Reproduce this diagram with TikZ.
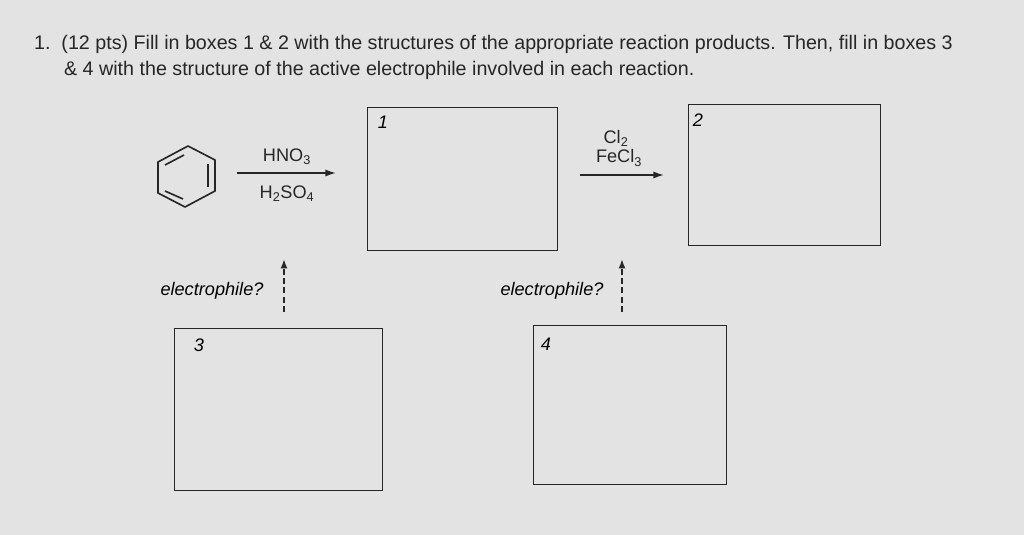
\documentclass[tikz,border=0pt]{standalone}
\usepackage{fontspec}
\setmainfont{Liberation Sans}
\usetikzlibrary{arrows.meta}
\begin{document}
\begin{tikzpicture}[x=0.03cm,y=-0.03cm,
  box/.style={draw=black!85,line width=1.1pt},
  lbl/.style={font=\itshape\fontsize{15.5}{18}\selectfont,anchor=center},
  txt/.style={font=\fontsize{15.5}{18}\selectfont,text=black!85},
  hd/.style={font=\fontsize{16.8}{19}\selectfont,text=black!85},
  bond/.style={line width=1.4pt,black!85},
  rx/.style={-{Latex[length=9pt,width=6pt]},line width=1.3pt,black!85},
  ex/.style={-{Latex[length=8pt,width=6pt]},line width=1.5pt,dash pattern=on 5pt off 3pt,black!85}]
\fill[gray!22] (0,0) rectangle (1024,535);
\useasboundingbox (0,0) rectangle (1024,535);
\node[hd,anchor=west] (h1) at (30,44) {1.\ \ (12 pts) Fill in boxes 1 \& 2 with the structures of the appropriate reaction products. Then, fill in boxes 3};
\node[hd,anchor=west] (h2) at (60,70) {\& 4 with the structure of the active electrophile involved in each reaction.};
\node[box,minimum width=190*0.03cm,minimum height=143*0.03cm,anchor=north west] (b1) at (367,107) {};
\node[box,minimum width=192*0.03cm,minimum height=141*0.03cm,anchor=north west] (b2) at (688,104) {};
\node[box,minimum width=208*0.03cm,minimum height=162*0.03cm,anchor=north west] (b3) at (174,328) {};
\node[box,minimum width=193*0.03cm,minimum height=159*0.03cm,anchor=north west] (b4) at (533,325) {};
\node[lbl] (l1) at (383,122) {1};
\node[lbl] (l2) at (698,120) {2};
\node[lbl] (l3) at (199,345) {3};
\node[lbl] (l4) at (546,344) {4};
% benzene (pointy top and bottom)
\coordinate (p1) at (188,146);
\coordinate (p2) at (158,162);
\coordinate (p3) at (158,193);
\coordinate (p4) at (185,207);
\coordinate (p5) at (215,191);
\coordinate (p6) at (215,160);
\draw[bond,line join=round] (p1) -- (p2) -- (p3) -- (p4) -- (p5) -- (p6) -- cycle;
\coordinate (q1) at (184,155); \coordinate (q2) at (165,165);
\coordinate (q3) at (165,191); \coordinate (q4) at (183,199);
\coordinate (q5) at (208,187); \coordinate (q6) at (208,164);
\draw[bond] (q1) -- (q2);
\draw[bond] (q3) -- (q4);
\draw[bond] (q5) -- (q6);
\coordinate (a1s) at (237,173); \coordinate (a1e) at (336,173);
\draw[rx] (a1s) -- (a1e);
\node[txt] (hno) at (287,157) {HNO\textsubscript{3}};
\node[txt] (hso) at (287,194) {H\textsubscript{2}SO\textsubscript{4}};
\coordinate (a2s) at (580,175); \coordinate (a2e) at (664,175);
\draw[rx] (a2s) -- (a2e);
\node[txt] (cl) at (616,138) {Cl\textsubscript{2}};
\node[txt] (fe) at (619,158) {FeCl\textsubscript{3}};
\node[lbl] (e1) at (212,291) {electrophile?};
\node[lbl] (e2) at (552,291) {electrophile?};
\coordinate (d1s) at (284,312); \coordinate (d1e) at (284,259);
\coordinate (d2s) at (622,312); \coordinate (d2e) at (622,259);
\draw[ex] (d1s) -- (d1e);
\draw[ex] (d2s) -- (d2e);
\end{tikzpicture}
\end{document}
